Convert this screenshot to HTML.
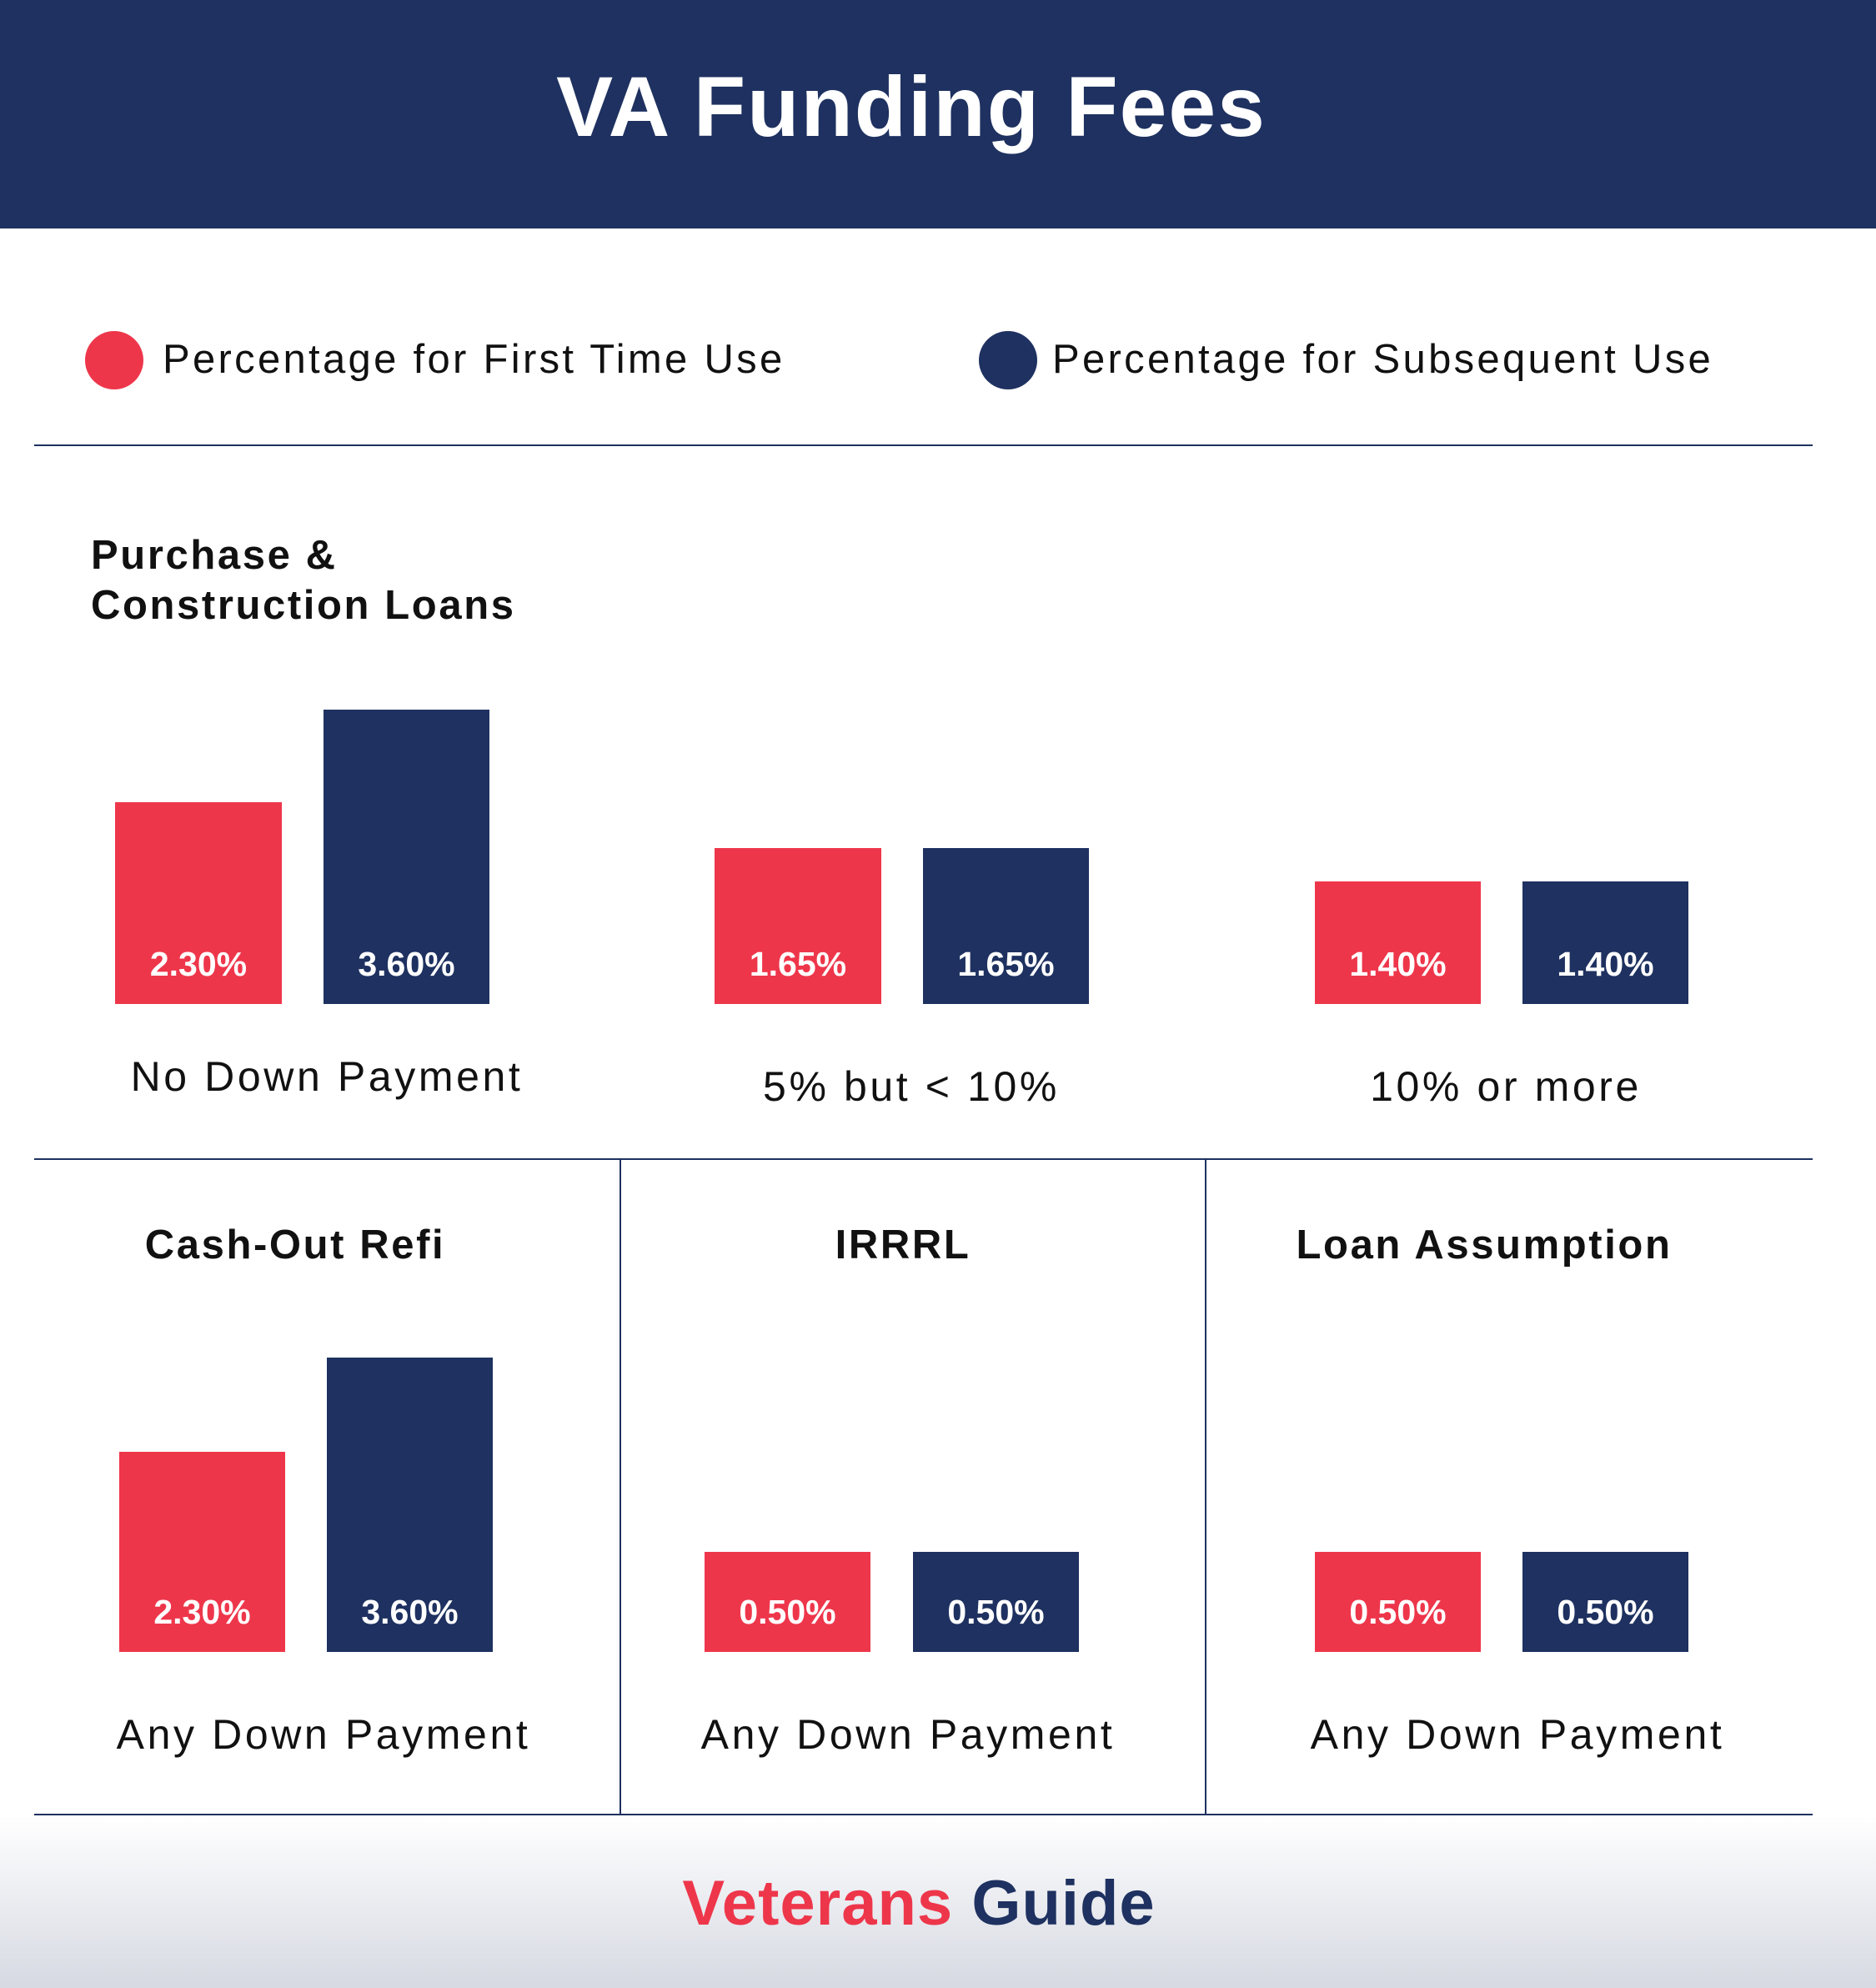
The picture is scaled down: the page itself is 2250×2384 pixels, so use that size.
<!DOCTYPE html>
<html><head><meta charset="utf-8"><style>
*{margin:0;padding:0;box-sizing:border-box}
body{width:2250px;height:2384px;position:relative;background:#fff;font-family:"Liberation Sans",sans-serif;overflow:hidden}
.a{position:absolute}
.hdr{left:0;top:0;width:2250px;height:274px;background:#1e3160}
.hdrt{left:0;top:0;width:2186px;line-height:256px;color:#fff;font-weight:bold;font-size:102px;text-align:center;letter-spacing:2px}
.dot{width:70px;height:70px;border-radius:50%}
.leg{font-size:49px;color:#111;line-height:60px;letter-spacing:3.3px}
.hl{height:2px;background:#1e3160;left:41px;width:2133px}
.vl{width:2px;background:#1e3160;top:1390px;height:786px}
.r{background:#ee364b}.b{background:#1e3160}
.bar{color:#fff;font-weight:bold;font-size:41px;text-align:center}
.bar span{position:absolute;left:0;right:0;bottom:24px}
.cat{font-size:50px;color:#111;text-align:center;width:700px;line-height:60px;letter-spacing:3.6px}
.tt{font-size:49px;font-weight:bold;color:#111;line-height:60px;letter-spacing:2.6px}
.ft{left:0;top:2177px;width:2250px;height:207px;background:linear-gradient(#fff,#d6d9e2)}
</style></head><body>
<div class="a hdr"></div>
<div class="a hdrt">VA Funding Fees</div>
<div class="a dot r" style="left:102px;top:397px"></div>
<div class="a leg" style="left:195px;top:401px">Percentage for First Time Use</div>
<div class="a dot b" style="left:1174px;top:397px"></div>
<div class="a leg" style="left:1262px;top:401px">Percentage for Subsequent Use</div>
<div class="a hl" style="top:533px"></div>
<div class="a tt" style="left:109px;top:636px">Purchase &amp;<br>Construction Loans</div>

<div class="a bar r" style="left:138px;top:962px;width:200px;height:242px"><span>2.30%</span></div>
<div class="a bar b" style="left:388px;top:851px;width:199px;height:353px"><span>3.60%</span></div>
<div class="a bar r" style="left:857px;top:1017px;width:200px;height:187px"><span>1.65%</span></div>
<div class="a bar b" style="left:1107px;top:1017px;width:199px;height:187px"><span>1.65%</span></div>
<div class="a bar r" style="left:1577px;top:1057px;width:199px;height:147px"><span>1.40%</span></div>
<div class="a bar b" style="left:1826px;top:1057px;width:199px;height:147px"><span>1.40%</span></div>
<div class="a cat" style="left:42px;top:1261px">No Down Payment</div>
<div class="a cat" style="left:743px;top:1273px">5% but &lt; 10%</div>
<div class="a cat" style="left:1456px;top:1273px">10% or more</div>

<div class="a hl" style="top:1389px"></div>
<div class="a vl" style="left:743px"></div>
<div class="a vl" style="left:1445px"></div>
<div class="a tt" style="left:4px;top:1463px;width:700px;text-align:center">Cash-Out Refi</div>
<div class="a tt" style="left:733px;top:1463px;width:700px;text-align:center">IRRRL</div>
<div class="a tt" style="left:1430px;top:1463px;width:700px;text-align:center">Loan Assumption</div>

<div class="a bar r" style="left:143px;top:1741px;width:199px;height:240px"><span>2.30%</span></div>
<div class="a bar b" style="left:392px;top:1628px;width:199px;height:353px"><span>3.60%</span></div>
<div class="a bar r" style="left:845px;top:1861px;width:199px;height:120px"><span>0.50%</span></div>
<div class="a bar b" style="left:1095px;top:1861px;width:199px;height:120px"><span>0.50%</span></div>
<div class="a bar r" style="left:1577px;top:1861px;width:199px;height:120px"><span>0.50%</span></div>
<div class="a bar b" style="left:1826px;top:1861px;width:199px;height:120px"><span>0.50%</span></div>
<div class="a cat" style="left:38px;top:2050px">Any Down Payment</div>
<div class="a cat" style="left:739px;top:2050px">Any Down Payment</div>
<div class="a cat" style="left:1470px;top:2050px">Any Down Payment</div>

<div class="a ft"></div>
<div class="a hl" style="top:2175px"></div>
<div class="a" style="left:0;width:2204px;top:2238px;text-align:center;font-size:76px;font-weight:bold;line-height:90px;letter-spacing:1px"><span style="color:#ee364b">Veterans</span> <span style="color:#1e3160">Guide</span></div>
</body></html>
